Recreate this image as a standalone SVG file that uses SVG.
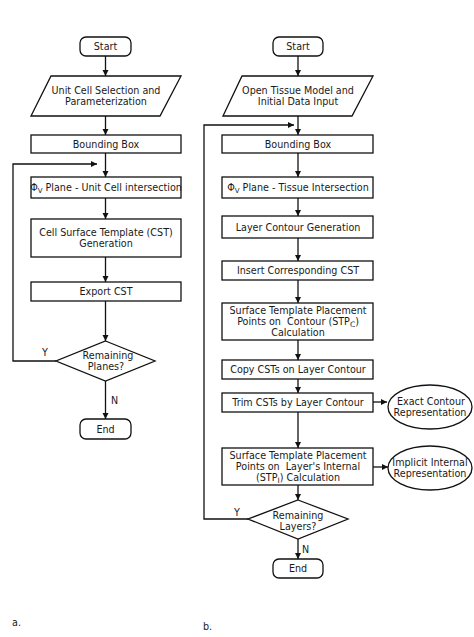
<svg xmlns="http://www.w3.org/2000/svg" width="474" height="637" viewBox="0 0 474 637">
<defs>
<marker id="ah" markerWidth="8" markerHeight="8" refX="6" refY="3" orient="auto" markerUnits="userSpaceOnUse">
<path d="M0,0 L6,3 L0,6 Z" fill="#111"/>
</marker>
<style>
.s{fill:#fff;stroke:#111;stroke-width:1.3}
.t{font-family:"DejaVu Sans",Verdana,sans-serif;font-size:9.6px;fill:#1a1a1a;text-anchor:middle}
.l{font-family:"DejaVu Sans",Verdana,sans-serif;font-size:9.6px;fill:#1a1a1a}
.c{fill:none;stroke:#111;stroke-width:1.3;marker-end:url(#ah)}
</style>
</defs>
<rect width="474" height="637" fill="#fff"/>

<g id="connectors">
<line class="c" x1="105.5" y1="56" x2="105.5" y2="76"/>
<line class="c" x1="105.5" y1="116" x2="105.5" y2="135"/>
<line class="c" x1="105.5" y1="153" x2="105.5" y2="177"/>
<line class="c" x1="105.5" y1="198" x2="105.5" y2="219"/>
<line class="c" x1="105.5" y1="257" x2="105.5" y2="282"/>
<line class="c" x1="105.5" y1="301" x2="105.5" y2="341"/>
<line class="c" x1="105.5" y1="381" x2="105.5" y2="419"/>
<polyline class="c" points="56,361 13,361 13,164 97,164"/>

<line class="c" x1="298" y1="56" x2="298" y2="76"/>
<line class="c" x1="298" y1="116" x2="298" y2="135"/>
<line class="c" x1="298" y1="153" x2="298" y2="177"/>
<line class="c" x1="298" y1="198" x2="298" y2="216"/>
<line class="c" x1="298" y1="238" x2="298" y2="261"/>
<line class="c" x1="298" y1="280" x2="298" y2="303"/>
<line class="c" x1="298" y1="340" x2="298" y2="360"/>
<line class="c" x1="298" y1="379" x2="298" y2="393"/>
<line class="c" x1="298" y1="412" x2="298" y2="448"/>
<line class="c" x1="298" y1="485" x2="298" y2="500"/>
<line class="c" x1="298" y1="539" x2="298" y2="559"/>
<line class="c" x1="373" y1="402" x2="387" y2="402"/>
<line class="c" x1="373" y1="467" x2="388" y2="467"/>
<polyline class="c" points="248,519 204,519 204,125 294,125"/>
</g>

<g id="a-start"><rect class="s" x="80" y="37" width="51" height="19" rx="6"/><text class="t" x="105.5" y="50">Start</text></g>
<g id="a-input"><polygon class="s" points="51,76 181,76 160,116 31,116"/><text class="t" x="106" y="94">Unit Cell Selection and</text><text class="t" x="106" y="105">Parameterization</text></g>
<g id="a-bbox"><rect class="s" x="31" y="135" width="150" height="18"/><text class="t" x="106" y="148">Bounding Box</text></g>
<g id="a-phi"><rect class="s" x="31" y="177" width="150" height="21"/><text class="t" x="106" y="191">Φ<tspan font-size="7" dy="2">V</tspan><tspan dy="-2"> Plane - Unit Cell intersection</tspan></text></g>
<g id="a-cst"><rect class="s" x="31" y="219" width="150" height="38"/><text class="t" x="106" y="236">Cell Surface Template (CST)</text><text class="t" x="106" y="247">Generation</text></g>
<g id="a-export"><rect class="s" x="31" y="282" width="150" height="19"/><text class="t" x="106" y="295">Export CST</text></g>
<g id="a-dec"><polygon class="s" points="105.5,341 155,361 105.5,381 56,361"/><text class="t" x="108" y="359">Remaining</text><text class="t" x="106" y="370">Planes?</text></g>
<g id="a-end"><rect class="s" x="80" y="419" width="51" height="20" rx="6"/><text class="t" x="105.5" y="433">End</text></g>
<text class="l" x="42" y="356">Y</text>
<text class="l" x="111" y="404">N</text>

<g id="b-start"><rect class="s" x="273" y="37" width="50" height="19" rx="6"/><text class="t" x="298" y="50">Start</text></g>
<g id="b-input"><polygon class="s" points="242,76 373,76 352,116 223,116"/><text class="t" x="298" y="94">Open Tissue Model and</text><text class="t" x="298" y="105">Initial Data Input</text></g>
<g id="b-bbox"><rect class="s" x="222" y="135" width="151" height="18"/><text class="t" x="298" y="148">Bounding Box</text></g>
<g id="b-phi"><rect class="s" x="222" y="177" width="151" height="21"/><text class="t" x="298" y="191">Φ<tspan font-size="7" dy="2">V</tspan><tspan dy="-2"> Plane - Tissue Intersection</tspan></text></g>
<g id="b-layer"><rect class="s" x="222" y="216" width="151" height="22"/><text class="t" x="298" y="231">Layer Contour Generation</text></g>
<g id="b-insert"><rect class="s" x="222" y="261" width="151" height="19"/><text class="t" x="298" y="274">Insert Corresponding CST</text></g>
<g id="b-stpc"><rect class="s" x="222" y="303" width="151" height="37"/><text class="t" x="298" y="314">Surface Template Placement</text><text class="t" x="298" y="325" xml:space="preserve">Points on  Contour (STP<tspan font-size="7.5" dy="2">C</tspan><tspan dy="-2">)</tspan></text><text class="t" x="298" y="336">Calculation</text></g>
<g id="b-copy"><rect class="s" x="222" y="360" width="151" height="19"/><text class="t" x="298" y="373">Copy CSTs on Layer Contour</text></g>
<g id="b-trim"><rect class="s" x="222" y="393" width="151" height="19"/><text class="t" x="298" y="406">Trim CSTs by Layer Contour</text></g>
<g id="b-exact"><ellipse class="s" cx="430" cy="407" rx="42" ry="22"/><text class="t" x="431" y="405">Exact Contour</text><text class="t" x="430" y="416">Representation</text></g>
<g id="b-stpi"><rect class="s" x="222" y="448" width="151" height="37"/><text class="t" x="298" y="459">Surface Template Placement</text><text class="t" x="298" y="470" xml:space="preserve">Points on  Layer's Internal</text><text class="t" x="298" y="481">(STP<tspan font-size="7.5" dy="2">I</tspan><tspan dy="-2">) Calculation</tspan></text></g>
<g id="b-implicit"><ellipse class="s" cx="430" cy="468" rx="42" ry="22"/><text class="t" x="430" y="466">Implicit Internal</text><text class="t" x="430" y="477">Representation</text></g>
<g id="b-dec"><polygon class="s" points="298,500 348,519 298,539 248,519"/><text class="t" x="298" y="519">Remaining</text><text class="t" x="298" y="530">Layers?</text></g>
<g id="b-end"><rect class="s" x="273" y="559" width="50" height="19" rx="6"/><text class="t" x="298" y="572">End</text></g>
<text class="l" x="234" y="516">Y</text>
<text class="l" x="302" y="553">N</text>

<text class="l" x="12" y="626">a.</text>
<text class="l" x="203" y="630">b.</text>
</svg>
